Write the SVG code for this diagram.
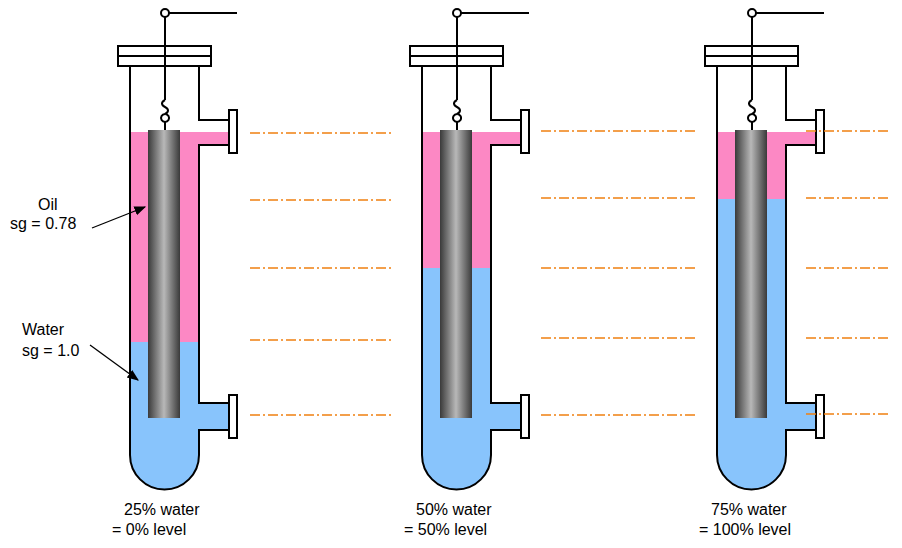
<svg xmlns="http://www.w3.org/2000/svg" width="902" height="548" viewBox="0 0 902 548">
<style>
.wall{fill:none;stroke:#000;stroke-width:2}
.fl{fill:#fff;stroke:#000;stroke-width:2}
.lv{stroke:#f08010;stroke-width:1.3;stroke-dasharray:10,3,2,3;fill:none}
.t{font-family:"Liberation Sans",Arial,sans-serif;font-size:16px;fill:#000}
.oil{fill:#fc88c4}
.wat{fill:#88c4fc}
</style>
<defs>
<linearGradient id="g" x1="0" x2="1" y1="0" y2="0">
<stop offset="0" stop-color="#3a3a3a"/><stop offset="0.5" stop-color="#b8b8b8"/><stop offset="1" stop-color="#3a3a3a"/>
</linearGradient>
<clipPath id="cp"><path d="M130,66 V455 A34.5,34.5 0 0 0 199,455 V430 H229 V403 H199 V145 H229 V120 H199 V66 Z"/></clipPath>
<marker id="ah" viewBox="0 0 10 10" refX="9" refY="5" markerWidth="9" markerHeight="9" orient="auto"><path d="M0,1 L10,5 L0,9 Z" fill="#000"/></marker>
<g id="vessel">
<path class="wall" d="M130,66 V455 A34.5,34.5 0 0 0 199,455 V430 H229 M229,403 H199 V145 H229 M229,120 H199 V66"/>
<rect class="fl" x="229" y="110" width="8" height="43"/>
<rect class="fl" x="229" y="395" width="8" height="43"/>
<rect class="fl" x="118" y="46" width="93" height="10"/>
<rect class="fl" x="118" y="56" width="93" height="10"/>
<path class="wall" d="M165,17 V100 M165,100 c-4,2 -4,5 0,7 c4,2 4,5 0,7 M165,114 a4,4 0 1 0 0.1,0 M165,122 V130 M169,13 H237"/>
<circle class="fl" cx="165" cy="13" r="4"/>
<rect x="148" y="130" width="32" height="288" fill="url(#g)"/>
</g>
</defs>
<g id="vessel1">
<g clip-path="url(#cp)"><rect class="oil" x="120" y="132" width="120" height="210"/><rect class="wat" x="120" y="342" width="120" height="160"/></g>
<use href="#vessel"/>
</g>
<g id="vessel2" transform="translate(292,0)">
<g clip-path="url(#cp)"><rect class="oil" x="120" y="132" width="120" height="136"/><rect class="wat" x="120" y="268" width="120" height="234"/></g>
<use href="#vessel"/>
</g>
<g id="vessel3" transform="translate(587,0)">
<g clip-path="url(#cp)"><rect class="oil" x="120" y="132" width="120" height="67"/><rect class="wat" x="120" y="199" width="120" height="303"/></g>
<use href="#vessel"/>
</g>
<g id="connectors">
<path class="lv" d="M250,133 H393 M250,200 H393 M250,268 H393 M250,340 H393 M250,415 H393"/>
<path class="lv" d="M541,131 H697 M541,198 H697 M541,268 H697 M541,338 H697 M541,415 H697"/>
<path class="lv" d="M806,131 H888 M806,198 H888 M806,268 H888 M806,338 H888 M806,414 H888"/>
<line x1="92" y1="228" x2="145" y2="207" stroke="#000" stroke-width="1.3" marker-end="url(#ah)"/>
<line x1="90" y1="345" x2="138" y2="380" stroke="#000" stroke-width="1.3" marker-end="url(#ah)"/>
</g>
<g id="labels">
<text class="t" x="38" y="210">Oil</text>
<text class="t" x="10" y="229">sg = 0.78</text>
<text class="t" x="22" y="335">Water</text>
<text class="t" x="22" y="356">sg = 1.0</text>
<text class="t" x="124" y="515">25% water</text>
<text class="t" x="112" y="535">= 0% level</text>
<text class="t" x="416" y="515">50% water</text>
<text class="t" x="404" y="535">= 50% level</text>
<text class="t" x="711" y="515">75% water</text>
<text class="t" x="699" y="535">= 100% level</text>
</g>
</svg>
